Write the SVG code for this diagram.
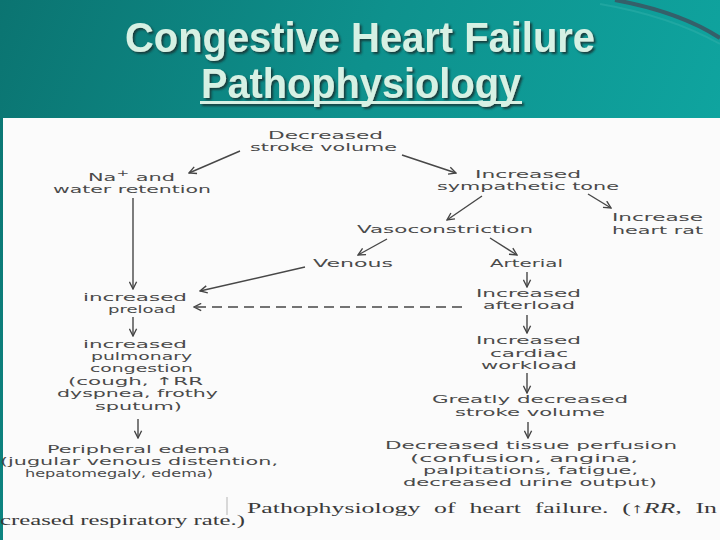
<svg xmlns="http://www.w3.org/2000/svg" width="720" height="540" viewBox="0 0 720 540">
<defs>
<linearGradient id="bg" x1="0" y1="0" x2="1" y2="0.3">
<stop offset="0" stop-color="#0b7471"/>
<stop offset="0.5" stop-color="#0e918d"/>
<stop offset="1" stop-color="#0fa5a0"/>
</linearGradient>
<filter id="sh" x="-5%" y="-20%" width="110%" height="150%">
<feDropShadow dx="2" dy="2" stdDeviation="0.8" flood-color="#143c3c" flood-opacity="1"/>
</filter>
<marker id="ah" viewBox="0 0 10 10" refX="9" refY="5" markerWidth="9" markerHeight="9" markerUnits="userSpaceOnUse" orient="auto">
<path d="M1,1 L9,5 L1,9" fill="none" stroke="#444" stroke-width="1.5"/>
</marker>
<style>
.t{font-family:"Liberation Sans",Arial,sans-serif;font-weight:bold;font-size:42px;fill:#d6f1e4}
.n{font-family:"DejaVu Sans","Liberation Sans",sans-serif;font-size:11px;fill:#4a4a4a}
.c{font-family:"Liberation Serif","Times New Roman",serif;font-size:14px;fill:#3a3a3a}
.ln{stroke:#474747;stroke-width:1.4;fill:none;marker-end:url(#ah)}
.dash{stroke-dasharray:10 6}
</style>
</defs>
<rect x="0" y="0" width="720" height="540" fill="url(#bg)"/>
<path d="M615,0 Q680,12 720,38" stroke="#34606a" stroke-width="4" fill="none"/>
<path d="M600,4 Q670,16 720,44" stroke="#2fb0aa" stroke-width="2" fill="none" opacity="0.5"/>
<g id="title" filter="url(#sh)">
<text class="t" x="360" y="52" text-anchor="middle" textLength="470" lengthAdjust="spacingAndGlyphs">Congestive Heart Failure</text>
<text class="t" x="361" y="98" text-anchor="middle" textLength="320" lengthAdjust="spacingAndGlyphs">Pathophysiology</text>
<rect x="200" y="101" width="322" height="3" fill="#d6f1e4"/>
</g>
<rect x="3" y="118" width="717" height="422" fill="#fbfbfb"/>
<g id="connectors">
<line class="ln" x1="240" y1="151" x2="189" y2="173"/>
<line class="ln" x1="402" y1="155" x2="456" y2="173"/>
<line class="ln" x1="482" y1="196" x2="447" y2="220"/>
<line class="ln" x1="588" y1="194" x2="611" y2="208"/>
<line class="ln" x1="387" y1="239" x2="358" y2="255"/>
<line class="ln" x1="490" y1="238" x2="517" y2="255"/>
<line class="ln" x1="305" y1="267" x2="200" y2="291"/>
<line class="ln" x1="133" y1="198" x2="133" y2="289"/>
<line class="ln" x1="133" y1="317" x2="133" y2="336"/>
<line class="ln" x1="138" y1="419" x2="138" y2="438"/>
<line class="ln dash" x1="462" y1="307" x2="194" y2="307"/>
<line class="ln" x1="527" y1="272" x2="527" y2="287"/>
<line class="ln" x1="527" y1="315" x2="527" y2="333"/>
<line class="ln" x1="527" y1="373" x2="527" y2="393"/>
<line class="ln" x1="528" y1="422" x2="528" y2="438"/>
</g>
<g id="n-stroke">
<text class="n" x="268" y="139" textLength="115" lengthAdjust="spacingAndGlyphs">Decreased</text>
<text class="n" x="250" y="151" textLength="147" lengthAdjust="spacingAndGlyphs">stroke volume</text>
</g>
<g id="n-na">
<text class="n" x="88" y="181" textLength="87" lengthAdjust="spacingAndGlyphs">Na<tspan font-size="8" dy="-5">+</tspan><tspan dy="5"> and</tspan></text>
<text class="n" x="53" y="193" textLength="158" lengthAdjust="spacingAndGlyphs">water retention</text>
</g>
<g id="n-symp">
<text class="n" x="475" y="178" textLength="106" lengthAdjust="spacingAndGlyphs">Increased</text>
<text class="n" x="437" y="190" textLength="182" lengthAdjust="spacingAndGlyphs">sympathetic tone</text>
</g>
<g id="n-hr">
<text class="n" x="612" y="221" textLength="91" lengthAdjust="spacingAndGlyphs">Increase</text>
<text class="n" x="612" y="234" textLength="91" lengthAdjust="spacingAndGlyphs">heart rat</text>
</g>
<g id="n-vaso">
<text class="n" x="357" y="233" textLength="176" lengthAdjust="spacingAndGlyphs">Vasoconstriction</text>
</g>
<g id="n-venous">
<text class="n" x="313" y="267" textLength="80" lengthAdjust="spacingAndGlyphs">Venous</text>
</g>
<g id="n-arterial">
<text class="n" x="490" y="267" textLength="73" lengthAdjust="spacingAndGlyphs">Arterial</text>
</g>
<g id="n-preload">
<text class="n" x="83" y="301" textLength="104" lengthAdjust="spacingAndGlyphs">increased</text>
<text class="n" x="108" y="313" textLength="68" lengthAdjust="spacingAndGlyphs">preload</text>
</g>
<g id="n-afterload">
<text class="n" x="476" y="297" textLength="105" lengthAdjust="spacingAndGlyphs">Increased</text>
<text class="n" x="483" y="309" textLength="92" lengthAdjust="spacingAndGlyphs">afterload</text>
</g>
<g id="n-pulm">
<text class="n" x="83" y="348" textLength="104" lengthAdjust="spacingAndGlyphs">increased</text>
<text class="n" x="91" y="360" textLength="101" lengthAdjust="spacingAndGlyphs">pulmonary</text>
<text class="n" x="90" y="372" textLength="103" lengthAdjust="spacingAndGlyphs">congestion</text>
<text class="n" x="68" y="385" textLength="135" lengthAdjust="spacingAndGlyphs">(cough, ↑RR</text>
<text class="n" x="57" y="397" textLength="161" lengthAdjust="spacingAndGlyphs">dyspnea, frothy</text>
<text class="n" x="95" y="410" textLength="87" lengthAdjust="spacingAndGlyphs">sputum)</text>
</g>
<g id="n-workload">
<text class="n" x="476" y="344" textLength="105" lengthAdjust="spacingAndGlyphs">Increased</text>
<text class="n" x="490" y="357" textLength="78" lengthAdjust="spacingAndGlyphs">cardiac</text>
<text class="n" x="481" y="369" textLength="96" lengthAdjust="spacingAndGlyphs">workload</text>
</g>
<g id="n-greatly">
<text class="n" x="432" y="403" textLength="196" lengthAdjust="spacingAndGlyphs">Greatly decreased</text>
<text class="n" x="455" y="416" textLength="150" lengthAdjust="spacingAndGlyphs">stroke volume</text>
</g>
<g id="n-edema">
<text class="n" x="47" y="453" textLength="183" lengthAdjust="spacingAndGlyphs">Peripheral edema</text>
<text class="n" x="0" y="465" textLength="278" lengthAdjust="spacingAndGlyphs">(jugular venous distention,</text>
<text class="n" x="25" y="477" textLength="188" lengthAdjust="spacingAndGlyphs">hepatomegaly, edema)</text>
</g>
<g id="n-tissue">
<text class="n" x="385" y="449" textLength="292" lengthAdjust="spacingAndGlyphs">Decreased tissue perfusion</text>
<text class="n" x="410" y="462" textLength="228" lengthAdjust="spacingAndGlyphs">(confusion, angina,</text>
<text class="n" x="423" y="474" textLength="215" lengthAdjust="spacingAndGlyphs">palpitations, fatigue,</text>
<text class="n" x="403" y="486" textLength="254" lengthAdjust="spacingAndGlyphs">decreased urine output)</text>
</g>
<g id="caption">
<rect x="226" y="497" width="2" height="18" fill="#d8d8d8"/>
<text class="c" x="247" y="513" textLength="470" lengthAdjust="spacingAndGlyphs" word-spacing="4">Pathophysiology of heart failure. (↑<tspan font-style="italic">RR</tspan>, In</text>
<text class="c" x="0" y="525" textLength="245" lengthAdjust="spacingAndGlyphs">creased respiratory rate.)</text>
</g>
</svg>
